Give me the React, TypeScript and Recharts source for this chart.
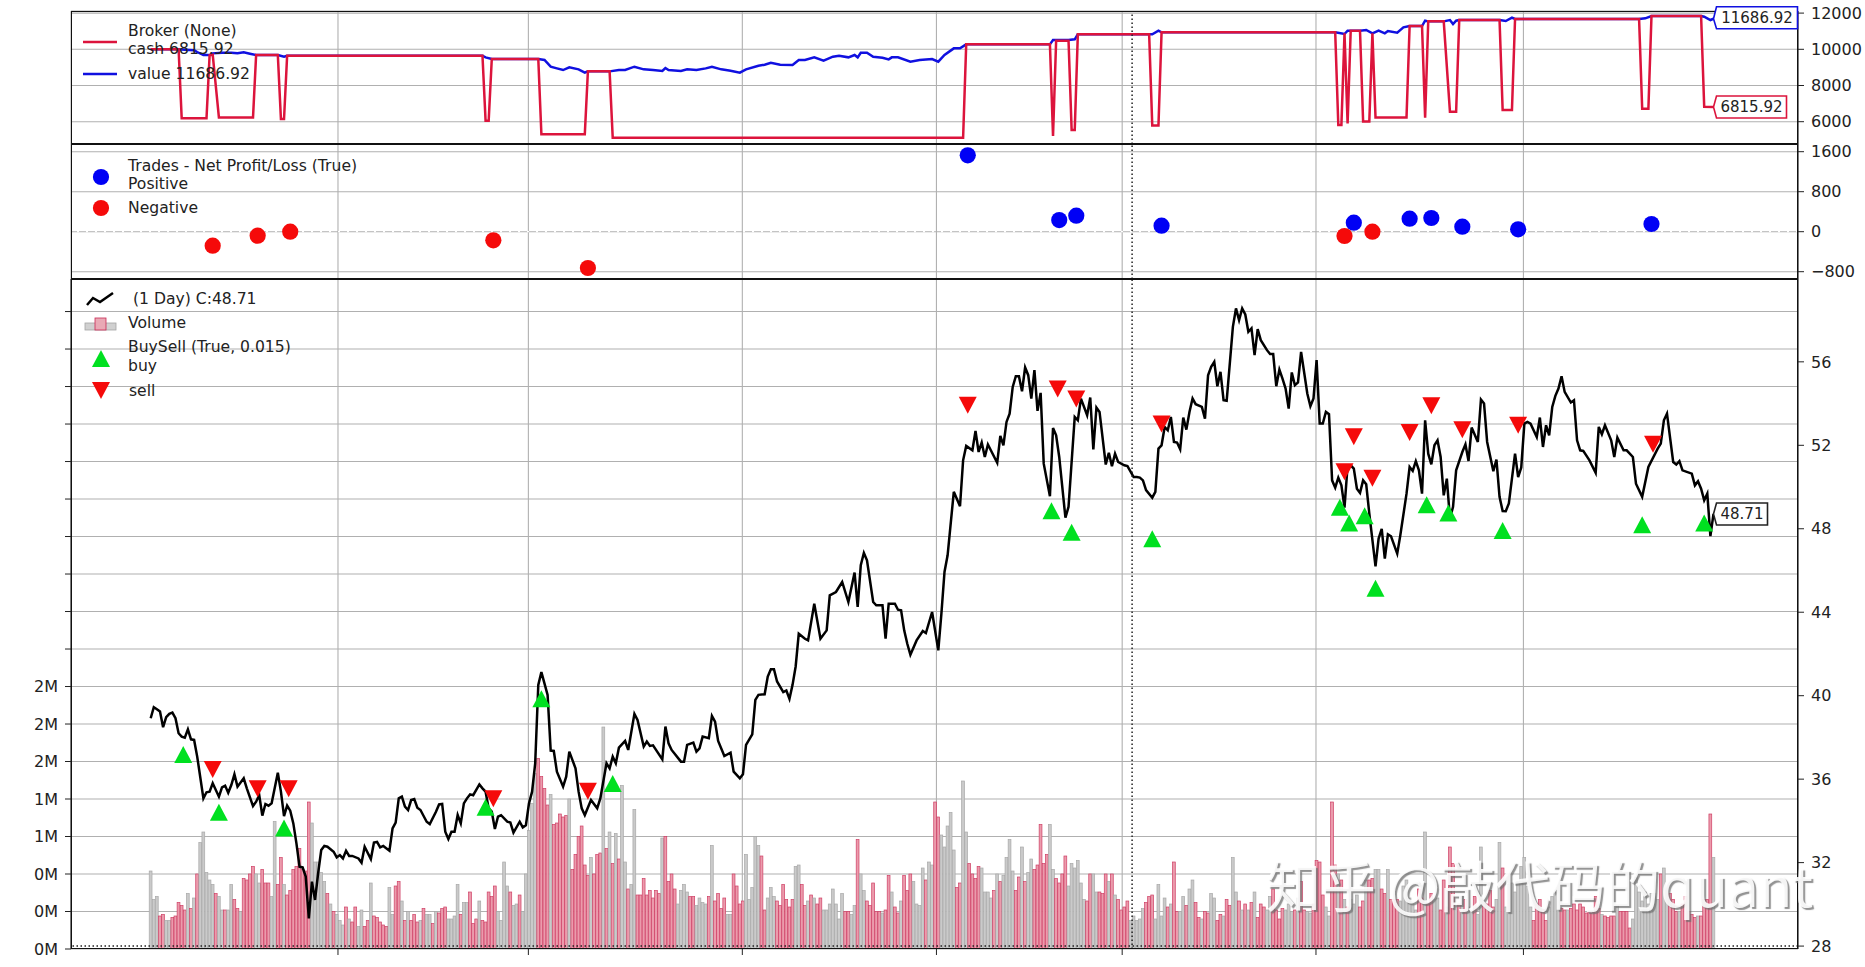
import React from "react";
import {
  ComposedChart, Line, Bar, Scatter, XAxis, YAxis, CartesianGrid, ReferenceLine, ReferenceDot,
} from "recharts";

// ---- shared x axis (bar numbers) ----
const xDomain = [-25.7, 531.25];
const xTickBars = [60.4, 121.8, 190.8, 253.4, 313.3, 375.8, 442.7];
const cursorBar = 316.5;

// ---- broker panel ----
const cashBars = [0,9,10,18,19,20,22,33,34,41,42,43,44,107,108,109,110,125,126,140,141,148,149,262,263,290,291,292,296,297,298,299,322,323,325,326,382,383,384,385,386,387,390,391,393,394,395,405,406,410,411,412,417,419,421,422,435,436,439,440,480,481,483,484,500,501,504];
const cashValues = [10000,10000,6184,6184,9684,9700,6239,6239,9684,9684,6147,6147,9647,9647,6055,6055,9463,9463,5300,5300,8781,8781,5116,5116,10273,10273,5208,10476,10476,5540,5540,10826,10826,5797,5797,10937,10937,5816,5816,10881,5908,11029,11029,6018,6018,10881,6239,6239,11287,11287,6221,11544,11544,6553,6553,11618,11618,6645,6645,11673,11673,6718,6718,11839,11839,6829,6815.92];
const valueBars = [0,9,11,14,15,17,19,20,23,26,28,30,32,34,41,43,44,107,108,110,125,127,129,131,133,135,138,140,141,148,151,153,156,159,162,165,166,167,171,173,176,179,181,184,187,190,192,196,198,200,203,207,209,211,214,217,220,222,225,227,228,229,231,233,236,238,239,241,245,248,252,254,256,259,261,263,290,291,296,298,299,322,323,325,326,382,385,386,390,392,394,396,398,399,402,404,406,410,411,412,417,419,420,421,422,435,437,439,440,480,482,484,500,501,503,504];
const valueValues = [10000,10000,9980,9945,9850,9684,9684,9776,9813,9813,9776,9831,9758,9684,9684,9592,9647,9647,9555,9463,9463,9408,9039,8947,8855,9002,8892,8708,8781,8781,8855,8855,9039,8892,8855,8800,8966,8855,8800,8892,8855,8947,9039,8892,8818,8708,8892,9095,9150,9260,9150,9131,9408,9408,9555,9371,9592,9647,9555,9684,9555,9813,9813,9592,9537,9445,9555,9555,9316,9408,9463,9316,9684,10052,10052,10273,10273,10513,10513,10550,10826,10826,10826,11029,10937,10937,10845,11029,11029,11066,10881,11029,10881,11011,10918,11213,11287,11287,11581,11544,11544,11618,11397,11581,11618,11618,11562,11747,11673,11673,11710,11839,11839,11802,11618,11686.92];
const brokerTicks = [6000, 8000, 10000, 12000];

// ---- trades panel ----
const winBars = [263.5, 293, 298.5, 326, 388, 406, 413, 423, 441, 484];
const winValues = [1528, 233, 320, 120, 180, 260, 274, 100, 48, 154];
const lossBars = [20, 34.5, 45, 110.5, 141, 385, 394];
const lossValues = [-280, -80, 0, -172, -726, -86, 0];
const tradeTicks = [-800, 0, 800, 1600];

// ---- price panel ----
const closeBars = [0,1,2,3,4,5,6,7,8,9,10,11,12,13,14,15,17,18,19,20,22,23,24,25,26,27,28,30,31,33,34,35,36,37,38,39,41,42,43,44,45,46,47,48,49,50,51,52,53,54,55,56,57,59,60,61,62,63,64,65,67,68,69,71,72,73,74,75,77,78,79,80,81,82,83,84,85,86,87,89,90,92,93,94,95,96,97,98,99,100,101,102,103,104,106,107,108,109,110,111,112,113,115,116,117,119,120,121,122,123,124,125,126,128,129,130,131,133,134,135,137,138,139,140,142,144,145,147,148,149,150,151,153,154,156,157,159,160,161,162,165,166,167,168,171,172,173,175,176,177,178,180,181,182,183,185,187,188,190,191,192,194,195,196,198,199,200,201,202,204,205,206,207,208,209,211,212,214,216,218,219,221,223,225,227,228,229,230,231,233,234,236,237,238,240,241,242,243,244,245,247,249,250,252,254,255,256,257,259,261,262,263,265,266,267,268,269,270,273,274,275,276,277,278,279,280,281,282,283,284,285,286,287,288,290,291,292,293,295,296,298,299,300,302,303,304,305,306,308,309,310,311,312,314,315,317,318,319,320,321,323,324,325,326,327,328,329,330,331,332,333,334,335,336,337,339,340,341,342,343,344,345,346,347,349,350,351,352,353,354,355,356,357,358,360,361,362,363,364,365,366,367,368,369,370,371,373,374,375,376,377,378,379,380,381,382,383,384,385,386,387,388,389,390,391,392,393,395,396,397,398,399,400,402,403,405,406,407,408,409,410,411,412,413,414,415,416,417,418,419,420,421,423,424,425,426,428,429,430,431,433,434,435,436,437,438,440,441,442,443,444,445,447,448,449,450,451,452,453,454,455,456,458,459,460,461,462,464,466,467,468,469,471,472,473,475,476,478,479,481,483,486,487,488,489,491,492,493,494,497,498,499,500,501,502,503,504];
const closeValues = [38.92,39.45,39.35,39.24,38.49,38.97,39.13,39.19,38.92,38.20,38.04,37.99,38.39,37.91,37.88,37.08,35.08,35.37,35.40,35.80,35.16,35.61,35.69,35.35,35.72,36.23,35.64,36.04,35.56,34.71,34.92,35.24,34.25,34.81,34.73,34.84,36.31,35.40,34.23,34.73,34.49,33.88,32.92,31.80,31.77,31.33,29.33,31.09,30.21,31.49,32.60,32.80,32.76,32.52,32.25,32.36,32.20,32.57,32.32,32.32,32.20,32.00,32.76,32.17,32.96,32.99,32.73,32.80,32.57,33.64,33.92,35.08,35.16,34.68,34.52,35.00,35.05,34.63,34.52,33.96,33.85,34.44,34.79,34.81,33.48,33.13,33.48,33.48,34.28,33.88,34.84,35.08,35.27,35.23,35.75,35.56,35.40,34.60,34.44,33.61,34.20,34.27,33.96,33.92,33.44,33.96,33.69,33.79,34.84,35.40,36.76,40.52,41.13,40.04,37.37,37.35,36.36,35.64,36.12,37.32,36.52,35.40,34.60,34.28,35.00,34.60,35.08,36.76,36.52,37.08,36.76,37.51,37.83,37.40,39.13,38.84,37.56,37.80,37.59,37.62,36.95,38.52,37.72,37.40,36.84,36.84,37.64,37.75,37.32,37.48,38.04,37.96,39.03,38.76,37.83,37.11,37.27,36.36,36.04,36.23,37.64,38.15,39.80,40.04,40.07,40.92,41.27,41.27,40.68,40.17,40.25,39.85,40.52,41.40,42.97,42.73,42.65,44.41,42.73,43.13,44.81,44.97,45.45,44.49,45.90,44.25,46.25,46.84,46.49,44.49,44.33,44.33,42.73,44.41,44.41,44.12,44.09,43.13,42.49,41.96,42.65,43.10,43.00,44.01,42.17,43.93,45.93,46.73,49.77,49.08,51.28,51.97,51.76,52.69,51.68,52.13,51.44,52.04,51.16,52.45,52.00,53.12,53.52,54.80,55.31,55.31,54.59,55.73,55.36,54.24,55.60,53.65,54.51,51.12,49.56,52.83,52.48,51.44,48.53,49.05,53.36,53.20,54.24,53.44,54.29,51.80,53.81,53.60,51.08,51.64,51.00,51.60,51.20,51.04,51.00,50.48,50.48,50.45,50.32,49.85,49.49,49.77,51.84,52.00,52.88,52.72,53.36,52.16,52.13,51.81,53.33,52.75,53.60,54.24,53.97,53.84,53.28,55.36,55.76,56.00,54.83,55.52,54.16,54.13,57.68,58.56,58.00,58.56,58.27,57.44,57.60,56.32,57.57,57.04,56.56,56.37,56.37,54.83,55.63,55.20,54.72,53.76,55.49,54.88,55.01,56.48,54.48,53.87,54.24,56.08,53.04,53.04,53.60,53.49,50.32,49.97,50.45,50.08,49.01,51.04,51.04,50.88,49.92,49.72,50.32,50.13,48.73,46.20,47.53,48.00,46.57,47.73,47.64,46.81,47.69,49.68,50.96,50.77,51.24,50.80,49.68,53.20,51.60,51.09,52.00,52.24,51.44,49.60,50.40,48.49,49.05,50.80,51.68,52.04,51.25,52.85,52.16,54.19,54.00,52.16,50.76,51.32,49.53,48.85,48.84,49.21,51.60,50.48,50.93,53.04,53.12,53.04,52.40,53.33,51.92,52.96,52.48,53.84,54.37,54.72,55.31,54.56,54.05,54.16,52.24,51.76,51.73,51.28,50.68,52.88,52.53,52.96,52.24,51.44,52.37,51.76,51.76,51.44,50.16,49.53,50.96,51.84,52.08,53.20,53.52,51.20,51.08,51.24,50.80,50.64,50.08,50.28,49.92,49.36,49.68,47.65,48.71];
const buyBars = [10.5, 22, 43, 108, 126, 149, 290.5, 297, 323, 383.5, 386.5, 391.5, 395, 411.5, 418.5, 436, 481, 501];
const buyValues = [37.16, 34.39, 33.63, 34.63, 39.83, 35.77, 48.84, 47.81, 47.5, 49.01, 48.25, 48.6, 45.13, 49.13, 48.73, 47.89, 48.17, 48.25];
const sellBars = [20, 34.5, 44.5, 110.5, 141, 263.5, 292.5, 298.5, 326, 385, 388, 394, 406, 413, 423, 441, 484.5];
const sellValues = [36.49, 35.56, 35.56, 35.08, 35.45, 53.94, 54.72, 54.24, 53.04, 50.76, 52.43, 50.45, 52.64, 53.92, 52.77, 52.99, 52.08];
const priceTicks = [28, 32, 36, 40, 44, 48, 52, 56];

// volume in millions; a negative sign marks a down day (crimson bar), positive an up day (grey bar)
const signedVolumeM = [
  .52,.33,.35,-.22,-.23,.19,.19,-.21,-.22,-.31,-.29,-.26,.37,-.27,.34,-.50,.71,.78,.51,.46,
  .43,-.37,.35,.26,-.26,.26,.43,-.33,-.27,.25,-.47,-.46,-.50,-.55,.50,.44,-.53,-.44,-.44,.35,
  .85,-.43,-.61,.43,-.36,-.39,-.53,-.55,-.67,-.53,-.52,-.98,.84,.58,.58,.51,.45,-.37,.30,-.25,
  .23,.19,.16,-.28,.20,-.18,-.28,.15,.26,-.15,-.19,.44,-.22,-.21,-.18,-.16,-.15,.41,.23,-.42,
  -.45,.32,-.19,.25,-.19,-.23,-.18,.19,-.27,.23,.23,-.17,.25,-.24,-.27,-.28,.20,.20,.22,.43,
  -.23,.31,.31,-.38,-.17,-.20,.32,-.19,-.18,-.38,-.35,-.42,.25,.19,.58,.42,-.38,.29,.30,-.36,
  .25,.50,.79,.97,1.17,-1.27,-1.15,-1.07,-.96,1.03,-.83,-.84,-.90,-.88,-.89,1.00,-.53,-.63,-.75,-.82,
  -.56,-.49,.61,-.50,-.63,-.64,1.48,-.67,.78,-.57,.77,-.60,
  1.09,.58,-.40,.43,.93,-.36,-.36,-.47,-.36,-.39,-.34,-.39,-.37,.74,-.75,-.45,-.50,-.40,.30,.39,
  .43,.38,-.35,-.35,.29,.34,.31,.30,-.35,.69,-.32,-.37,-.27,-.34,.23,.23,-.50,-.42,-.30,-.32,
  .63,.33,.41,.75,.69,-.62,-.26,.34,.41,.35,-.32,-.29,-.43,-.33,-.28,-.33,.55,.56,-.43,-.29,
  .32,-.36,.34,-.30,-.34,.26,.26,.30,.40,.30,.20,.37,-.25,-.25,.23,.29,-.73,.50,.39,-.32,
  -.29,-.44,-.25,-.25,.24,-.26,-.49,.38,-.28,-.24,.32,-.49,-.39,-.50,.45,.30,.29,.54,-.46,.58,
  .56,-.98,-.88,.76,.68,.82,.91,.66,-.41,-.44,1.12,.78,-.57,-.50,-.47,-.55,.54,.38,.38,.34,
  -.39,.50,-.45,.49,.61,.73,.52,-.39,-.48,.68,-.45,.51,.60,-.53,-.56,-.83,-.57,-.63,.83,.53,
  -.47,-.44,-.50,-.62,.42,.57,.54,.59,.44,.33,-.32,-.50,.50,.38,-.38,-.37,-.50,.45,-.50,.36,
  -.33,-.26,-.28,-.32,.19,.22,.19,.20,.27,-.31,-.35,-.36,.20,.43,.22,.34,-.28,.30,-.58,-.25,
  .25,.35,-.29,.40,.46,-.31,-.21,.20,-.25,-.24,.37,.34,-.19,-.23,.22,-.33,-.29,.61,.38,-.32,
  .26,-.30,.26,-.31,.38,-.21,-.30,-.28,.26,.35,-.40,-.26,-.20,-.27,.26,.30,.25,-.26,.34,-.45,
  -.26,.25,.24,-.30,-.59,-.58,-.36,.28,.22,-.98,-.56,.50,-.46,.33,-.28,.33,.30,.36,-.28,-.32,
  .46,-.46,-.47,.53,.53,-.40,-.37,.53,-.33,-.33,-.33,.32,.42,.46,.34,.30,.26,-.40,-.34,.78,
  -.30,-.37,.33,.34,-.26,-.46,.28,-.68,-.57,.28,-.30,.35,-.33,.28,.25,-.35,.23,.68,-.30,-.30,
  -.39,-.28,.33,.71,-.54,.28,.43,.44,.38,.45,.55,.61,.42,.28,-.19,-.30,-.33,-.26,-.19,.28,
  .35,.38,.39,-.27,-.26,.26,-.27,-.30,-.26,-.30,-.28,-.24,-.25,-.25,-.35,-.27,.23,-.22,-.21,-.22,
  -.22,.29,-.25,-.25,-.25,-.14,.20,.48,.38,.32,.38,.30,.37,.37,.33,-.50,.54,.39,-.37,-.33,
  -.25,.25,-.30,-.35,-.25,-.23,-.21,.22,-.22,-.33,-.33,-.90,.61,
];
const volumeTicks = [0,.25,.5,.75,1,1.25,1.5,1.75,2,2.25,2.5,2.75,3,3.25,3.5,3.75,4,4.25];
const volumeTickLabels = ["0M","0M","0M","1M","1M","2M","2M","2M"];

// ---- legend and watermark texts ----
const brokerLegend = ["Broker (None)", "cash 6815.92", "value 11686.92"];
const tradeLegend = ["Trades - Net Profit/Loss (True)", "Positive", "Negative"];
const priceLegend = [" (1 Day) C:48.71", "Volume", "BuySell (True, 0.015)", "buy", "sell"];
const watermark = "知乎 @敲代码的quant";

// ---- tables ----
const zip = (bars: number[], vals: number[]) => bars.map((i, k) => ({ i, v: vals[k] }));
const cashTable = zip(cashBars, cashValues);
const valueTable = zip(valueBars, valueValues);
const winTable = zip(winBars, winValues);
const lossTable = zip(lossBars, lossValues);
const closeTable = zip(closeBars, closeValues);
const buyTable = zip(buyBars, buyValues);
const sellTable = zip(sellBars, sellValues);
const volumeTable = signedVolumeM.map((s, i) => ({ i, volume: Math.abs(s), down: s < 0 }));

// ---- styling ----
const FONT = "'DejaVu Sans', sans-serif";
const INK = "#222222";
const GRID = "#b0b0b0";
const CRIMSON = "#dc143c";
const BLUE = "#1010e0";
const W = 1865, H = 967;
const LEFT = 71, RIGHT_W = 67;
const tickStyle = { fill: INK, fontSize: 16, fontFamily: FONT };
const layer: React.CSSProperties = { position: "absolute", left: 0, top: 0 };

const volumeBar = (p: any) => {
  const { x, y, width, height, payload } = p;
  const w = 2.8;
  return (
    <rect
      x={x + width / 2 - w / 2} y={y} width={w} height={height}
      fill={payload.down ? "#eb9bac" : "#cacaca"}
      stroke={payload.down ? "#cf3f65" : "#a8a8a8"}
      strokeWidth={0.7}
    />
  );
};

const triangle = (up: boolean) => (p: any) => {
  const { cx, cy } = p;
  const d = up
    ? `M${cx} ${cy - 9}L${cx + 9} ${cy + 8}L${cx - 9} ${cy + 8}Z`
    : `M${cx} ${cy + 9}L${cx + 9} ${cy - 8}L${cx - 9} ${cy - 8}Z`;
  return <path d={d} fill={up ? "#00e020" : "#f50a0a"} />;
};
const circle = (color: string) => (p: any) => <circle cx={p.cx} cy={p.cy} r={8.1} fill={color} />;

const tag = (text: string, color: string, w: number, up: number, down: number) => (p: any) => {
  const { cx, cy } = p;
  return (
    <g>
      <path
        d={`M${cx} ${cy}L${cx + 3} ${cy - up}L${cx + 3 + w} ${cy - up}L${cx + 3 + w} ${cy + down}L${cx + 3} ${cy + down}Z`}
        fill="#fff" stroke={color} strokeWidth={1.6}
      />
      <text x={cx + 3 + w / 2} y={(cy - up + cy + down) / 2 + 5.5} textAnchor="middle" fontSize={15} fontFamily={FONT} fill={INK}>{text}</text>
    </g>
  );
};

const cursorLine = (yAxisId?: string) => (
  <ReferenceLine x={cursorBar} yAxisId={yAxisId as any} stroke="#222" strokeWidth={1.5} strokeDasharray="1.5 2.5" />
);

const hiddenX = (
  <XAxis dataKey="i" type="number" domain={xDomain} ticks={xTickBars} allowDataOverflow hide />
);
const brokerMargin = { top: 11, bottom: H - 144, left: LEFT, right: 0 };

function BrokerPanel() {
  return (
    <div style={layer}>
      <ComposedChart width={W} height={H} data={cashTable} margin={brokerMargin}>
        <CartesianGrid stroke={GRID} strokeWidth={1.1} />
        {hiddenX}
        <YAxis orientation="right" width={RIGHT_W} type="number" domain={[4768, 12116]} ticks={brokerTicks} allowDataOverflow
          tick={tickStyle} tickSize={6} tickMargin={7} stroke={INK} interval={0} />
        <Line data={valueTable} dataKey="v" stroke={BLUE} strokeWidth={2.5} dot={false} isAnimationActive={false} />
        <Line data={cashTable} dataKey="v" stroke={CRIMSON} strokeWidth={2.5} dot={false} isAnimationActive={false} />
        {cursorLine()}
      </ComposedChart>
    </div>
  );
}

function BrokerTags() {
  return (
    <div style={layer}>
      <ComposedChart width={W} height={H} data={cashTable} margin={brokerMargin}>
        {hiddenX}
        <YAxis orientation="right" width={RIGHT_W} type="number" domain={[4768, 12116]} ticks={brokerTicks} allowDataOverflow tick={false} axisLine={false} tickLine={false} />
        <ReferenceDot x={504} y={11686.92} ifOverflow="visible" shape={tag("11686.92", BLUE, 81, 12, 10)} />
        <ReferenceDot x={504} y={6815.92} ifOverflow="visible" shape={tag("6815.92", CRIMSON, 70, 11, 11)} />
      </ComposedChart>
    </div>
  );
}

function TradesPanel() {
  return (
    <div style={layer}>
      <ComposedChart width={W} height={H} data={winTable} margin={{ top: 144, bottom: H - 279, left: LEFT, right: 0 }}>
        <CartesianGrid stroke={GRID} strokeWidth={1.1} />
        {hiddenX}
        <YAxis orientation="right" width={RIGHT_W} type="number" domain={[-946, 1754]} ticks={tradeTicks} allowDataOverflow
          tick={tickStyle} tickSize={6} tickMargin={7} stroke={INK} interval={0}
          tickFormatter={(v: number) => String(v).replace("-", "\u2212")} />
        <Scatter data={winTable} dataKey="v" shape={circle("#0000f5")} isAnimationActive={false} />
        <Scatter data={lossTable} dataKey="v" shape={circle("#f50a0a")} isAnimationActive={false} />
        <ReferenceLine y={0} stroke="#ffffff" strokeWidth={1.3} strokeDasharray="2 7" />
        {cursorLine()}
      </ComposedChart>
    </div>
  );
}

function PricePanel() {
  return (
    <div style={layer}>
      <ComposedChart width={W} height={H} data={volumeTable} margin={{ top: 279, bottom: 0, left: 0, right: 0 }} barCategoryGap={0}>
        <CartesianGrid yAxisId="volume" stroke={GRID} strokeWidth={1.1} />
        <XAxis dataKey="i" type="number" domain={xDomain} ticks={xTickBars} allowDataOverflow height={H - 949}
          tickFormatter={() => ""} tickSize={6} axisLine={false} stroke={INK} interval={0} />
        <YAxis yAxisId="volume" orientation="left" width={LEFT} type="number" domain={[0, 4.467]} ticks={volumeTicks} allowDataOverflow
          tick={tickStyle} tickSize={6} tickMargin={7} stroke={INK} interval={0}
          tickFormatter={(_: number, idx: number) => volumeTickLabels[idx] ?? ""} />
        <YAxis yAxisId="price" orientation="right" width={RIGHT_W} type="number" domain={[27.86, 59.97]} ticks={priceTicks} allowDataOverflow
          tick={tickStyle} tickSize={6} tickMargin={7} stroke={INK} interval={0} />
        <Bar yAxisId="volume" dataKey="volume" barSize={3} shape={volumeBar} isAnimationActive={false} />
        <Line yAxisId="price" data={closeTable} dataKey="v" stroke="#000" strokeWidth={2.5} dot={false} isAnimationActive={false} />
        <Scatter yAxisId="price" data={buyTable} dataKey="v" shape={triangle(true)} isAnimationActive={false} />
        <Scatter yAxisId="price" data={sellTable} dataKey="v" shape={triangle(false)} isAnimationActive={false} />
        {cursorLine("volume")}
        <ReferenceLine yAxisId="price" y={28} stroke="#222" strokeWidth={1.5} strokeDasharray="1.5 2.5" />
        <ReferenceDot yAxisId="price" x={504} y={48.71} ifOverflow="visible" shape={tag("48.71", "#222", 51, 11, 11)} />
      </ComposedChart>
    </div>
  );
}

function Legends() {
  const t = (x: number, y: number, s: string) => (
    <text x={x} y={y} fontSize={15.6} fontFamily={FONT} fill={INK} dominantBaseline="central" xmlSpace="preserve">{s}</text>
  );
  return (
    <svg width={W} height={H} style={{ ...layer, pointerEvents: "none" }}>
      <line x1={83} x2={117} y1={42} y2={42} stroke={CRIMSON} strokeWidth={2.5} />
      <line x1={83} x2={117} y1={74} y2={74} stroke={BLUE} strokeWidth={2.5} />
      {t(128, 31, brokerLegend[0])}
      {t(128, 49, brokerLegend[1])}
      {t(128, 74, brokerLegend[2])}
      <circle cx={101} cy={177} r={8.1} fill="#0000f5" />
      <circle cx={101} cy={208} r={8.1} fill="#f50a0a" />
      {t(128, 166, tradeLegend[0])}
      {t(128, 184, tradeLegend[1])}
      {t(128, 208, tradeLegend[2])}
      <polyline points="87,305 93,298 100,302 113,293" fill="none" stroke="#000" strokeWidth={2.5} />
      {t(128, 299, priceLegend[0])}
      <rect x={85} y={323} width={31} height={7} fill="#d0d0d0" stroke="#a4a4a4" strokeWidth={0.8} />
      <rect x={95} y={318} width={11} height={12} fill="#e9a9b5" stroke="#c92a55" strokeWidth={0.8} />
      {t(128, 323, priceLegend[1])}
      {t(128, 347, priceLegend[2])}
      {t(128, 366, priceLegend[3])}
      {t(129, 391, priceLegend[4])}
      <path d="M101 350L110 367L92 367Z" fill="#00e020" />
      <path d="M101 399L110 382L92 382Z" fill="#f50a0a" />
    </svg>
  );
}

const frameBox = (top: number, bottom: number): React.CSSProperties => ({
  position: "absolute", left: LEFT, top, width: 1798 - LEFT, height: bottom - top,
  boxSizing: "border-box", border: "1.6px solid #111",
});

export default function App() {
  return (
    <div style={{ position: "absolute", left: 0, top: 0, width: W, height: H, background: "#fff", overflow: "hidden" }}>
      <BrokerPanel />
      <TradesPanel />
      <PricePanel />
      <div style={frameBox(11, 144)} />
      <div style={frameBox(144, 279)} />
      <div style={frameBox(279, 949)} />
      <BrokerTags />
      <Legends />
      <div style={{
        position: "absolute", left: 1266, top: 845, whiteSpace: "nowrap",
        fontFamily: "'Noto Sans CJK SC', sans-serif", fontSize: 55, lineHeight: "76px",
        color: "rgba(255,255,255,0.9)", textShadow: "2px 2px 1px rgba(110,110,110,0.75)",
      }}>{watermark}</div>
    </div>
  );
}
